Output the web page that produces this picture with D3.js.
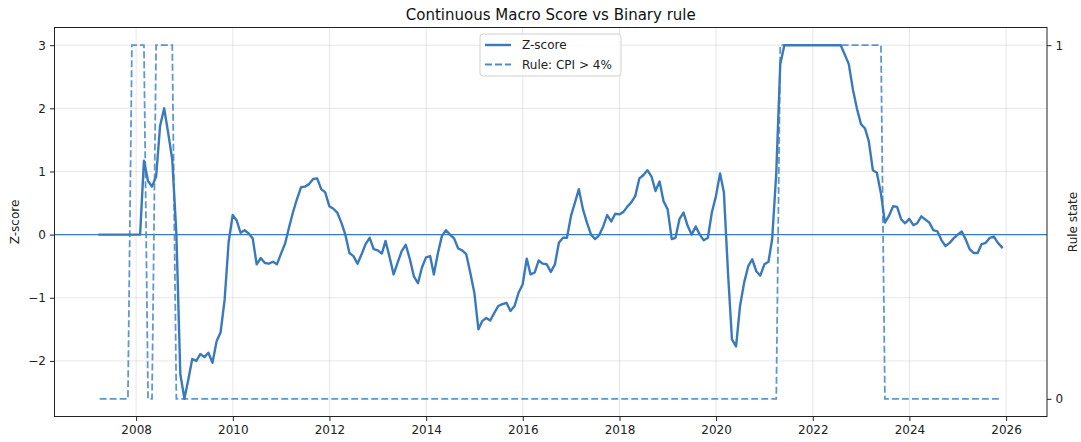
<!DOCTYPE html>
<html>
<head>
<meta charset="utf-8">
<script src="https://cdn.jsdelivr.net/npm/d3@7"></script>
<style>
  html, body { margin: 0; padding: 0; background: #fff; }
  svg { display: block; font-family: "DejaVu Sans", sans-serif; }
</style>
</head>
<body>
<svg id="chart" width="1081" height="442"></svg>
<script>
// ---------------- DATA ----------------
const title = "Continuous Macro Score vs Binary rule";
const startYear = 2007, startMonth = 3;   // first observation: end of March 2007 (monthly, month-end)
const zLabel = "Z-score";
const ruleLabel = "Rule: CPI > 4%";

// Z-score, monthly from 2007-03 to 2025-11
const zscore = [
  // 2007 Mar-Dec
  0, 0, 0, 0, 0, 0, 0, 0, 0, 0,
  // 2008
  0, 1.17, 0.85, 0.76, 0.92, 1.72, 2.0, 1.6, 1.19, 0.02, -2.21, -2.6,
  // 2009
  -2.28, -1.97, -2.0, -1.89, -1.94, -1.87, -2.03, -1.69, -1.55, -1.03, -0.12, 0.31,
  // 2010
  0.22, 0.03, 0.07, 0.02, -0.06, -0.47, -0.37, -0.45, -0.46, -0.43, -0.47, -0.3,
  // 2011
  -0.14, 0.1, 0.35, 0.56, 0.75, 0.76, 0.8, 0.88, 0.89, 0.72, 0.67, 0.45,
  // 2012
  0.41, 0.35, 0.19, 0.0, -0.29, -0.34, -0.46, -0.31, -0.15, -0.05, -0.23, -0.25,
  // 2013
  -0.3, -0.1, -0.36, -0.63, -0.44, -0.26, -0.16, -0.39, -0.66, -0.77, -0.52, -0.36,
  // 2014
  -0.34, -0.63, -0.29, -0.02, 0.07, 0.0, -0.06, -0.22, -0.25, -0.31, -0.6, -0.92,
  // 2015
  -1.5, -1.37, -1.32, -1.36, -1.24, -1.13, -1.1, -1.08, -1.21, -1.13, -0.92, -0.79,
  // 2016
  -0.38, -0.63, -0.6, -0.41, -0.46, -0.47, -0.59, -0.47, -0.13, -0.05, -0.05, 0.3,
  // 2017
  0.52, 0.72, 0.4, 0.19, 0.0, -0.07, -0.01, 0.13, 0.31, 0.21, 0.33, 0.32,
  // 2018
  0.36, 0.44, 0.51, 0.61, 0.89, 0.94, 1.02, 0.92, 0.69, 0.84, 0.53, 0.40,
  // 2019
  -0.07, -0.05, 0.25, 0.35, 0.14, 0.0, 0.13, 0.0, -0.09, -0.05, 0.35, 0.61,
  // 2020
  0.97, 0.67, -0.6, -1.66, -1.77, -1.13, -0.76, -0.5, -0.39, -0.58, -0.65, -0.47,
  // 2021
  -0.43, -0.07, 0.98, 2.7, 3, 3, 3, 3, 3, 3, 3, 3,
  // 2022
  3, 3, 3, 3, 3, 3, 3, 2.85, 2.7, 2.3, 2.0, 1.75,
  // 2023
  1.68, 1.48, 1.02, 0.98, 0.65, 0.19, 0.3, 0.45, 0.44, 0.24, 0.18, 0.25,
  // 2024
  0.15, 0.18, 0.29, 0.24, 0.19, 0.07, 0.05, -0.09, -0.18, -0.13, -0.06, 0.0,
  // 2025 Jan-Nov
  0.05, -0.07, -0.23, -0.29, -0.29, -0.15, -0.13, -0.05, -0.03, -0.13, -0.2
];

// Binary rule state (CPI > 4%), same months
const ruleState = [
  // 2007 Mar-Dec
  0, 0, 0, 0, 0, 0, 0, 0, 1, 1,
  // 2008
  1, 1, 0, 0, 1, 1, 1, 1, 1, 0, 0, 0,
  // 2009
  0,0,0,0,0,0,0,0,0,0,0,0,
  // 2010
  0,0,0,0,0,0,0,0,0,0,0,0,
  // 2011
  0,0,0,0,0,0,0,0,0,0,0,0,
  // 2012
  0,0,0,0,0,0,0,0,0,0,0,0,
  // 2013
  0,0,0,0,0,0,0,0,0,0,0,0,
  // 2014
  0,0,0,0,0,0,0,0,0,0,0,0,
  // 2015
  0,0,0,0,0,0,0,0,0,0,0,0,
  // 2016
  0,0,0,0,0,0,0,0,0,0,0,0,
  // 2017
  0,0,0,0,0,0,0,0,0,0,0,0,
  // 2018
  0,0,0,0,0,0,0,0,0,0,0,0,
  // 2019
  0,0,0,0,0,0,0,0,0,0,0,0,
  // 2020
  0,0,0,0,0,0,0,0,0,0,0,0,
  // 2021
  0, 0, 0, 1, 1, 1, 1, 1, 1, 1, 1, 1,
  // 2022
  1,1,1,1,1,1,1,1,1,1,1,1,
  // 2023
  1, 1, 1, 1, 1, 0, 0, 0, 0, 0, 0, 0,
  // 2024
  0,0,0,0,0,0,0,0,0,0,0,0,
  // 2025 Jan-Nov
  0,0,0,0,0,0,0,0,0,0,0
];

const xTickYears = [2008, 2010, 2012, 2014, 2016, 2018, 2020, 2022, 2024, 2026];
const zTicks = [-2, -1, 0, 1, 2, 3];
const ruleTicks = [0, 1];

// month-end dates
const dates = zscore.map((_, i) => new Date(Date.UTC(startYear, startMonth - 1 + i + 1, 0)));
const rows = dates.map((d, i) => ({ date: d, z: zscore[i], rule: ruleState[i] }));

// ---------------- LAYOUT ----------------
const svg = d3.select("#chart");
const m = { left: 54.5, right: 1047, top: 27.5, bottom: 416.5 };

const blue = "#3a7aba";
const ruleColor = "#4f8cc8";

// x domain with 5% padding like matplotlib
const [t0, t1] = d3.extent(dates).map(d => +d);
const padT = (t1 - t0) * 0.05;
const x = d3.scaleUtc().domain([new Date(t0 - padT), new Date(t1 + padT)]).range([m.left, m.right]);

const [zmin, zmax] = d3.extent(zscore);
const padZ = (zmax - zmin) * 0.05;
const y = d3.scaleLinear().domain([zmin - padZ, zmax + padZ]).range([m.bottom, m.top]);
const y2 = d3.scaleLinear().domain([-0.05, 1.05]).range([m.bottom, m.top]);

// ---------------- GRID ----------------
const grid = svg.append("g");
grid.selectAll("line.gx").data(xTickYears).join("line")
  .attr("x1", d => x(new Date(Date.UTC(d, 0, 1)))).attr("x2", d => x(new Date(Date.UTC(d, 0, 1))))
  .attr("y1", m.top).attr("y2", m.bottom)
  .attr("stroke", "#b0b0b0").attr("stroke-opacity", 0.3).attr("stroke-width", 1);
grid.selectAll("line.gy").data(zTicks).join("line")
  .attr("x1", m.left).attr("x2", m.right)
  .attr("y1", d => y(d)).attr("y2", d => y(d))
  .attr("stroke", "#b0b0b0").attr("stroke-opacity", 0.3).attr("stroke-width", 1);

// ---------------- ZERO LINE ----------------
svg.append("line")
  .attr("x1", m.left).attr("x2", m.right)
  .attr("y1", y(0)).attr("y2", y(0))
  .attr("stroke", blue).attr("stroke-width", 1.2);

// ---------------- SERIES ----------------
svg.append("path").datum(rows)
  .attr("fill", "none").attr("stroke", ruleColor).attr("stroke-width", 1.8)
  .attr("stroke-dasharray", "7,3").attr("opacity", 0.9)
  .attr("d", d3.line().x(d => x(d.date)).y(d => y2(d.rule)));

svg.append("path").datum(rows)
  .attr("fill", "none").attr("stroke", blue).attr("stroke-width", 2.4)
  .attr("stroke-linejoin", "round").attr("stroke-linecap", "square")
  .attr("d", d3.line().x(d => x(d.date)).y(d => y(d.z)));

// ---------------- AXES ----------------
const fmtMinus = d => (d < 0 ? "\u2212" + Math.abs(d) : String(d));
const fontSize = 12;

const xAxis = svg.append("g").attr("transform", `translate(0,${m.bottom})`)
  .call(d3.axisBottom(x).tickValues(xTickYears.map(yv => new Date(Date.UTC(yv, 0, 1))))
    .tickFormat(d3.utcFormat("%Y")).tickSize(4.5).tickPadding(4));
const yAxis = svg.append("g").attr("transform", `translate(${m.left},0)`)
  .call(d3.axisLeft(y).tickValues(zTicks).tickFormat(fmtMinus).tickSize(4.5).tickPadding(4));
const y2Axis = svg.append("g").attr("transform", `translate(${m.right},0)`)
  .call(d3.axisRight(y2).tickValues(ruleTicks).tickFormat(d3.format("d")).tickSize(4.5).tickPadding(4));

[xAxis, yAxis, y2Axis].forEach(g => {
  g.select(".domain").remove();
  g.selectAll(".tick line").attr("stroke", "#222").attr("stroke-width", 1);
  g.selectAll(".tick text").attr("fill", "#222").style("font-size", fontSize + "px")
    .style("font-family", "DejaVu Sans, sans-serif");
});

// frame
svg.append("rect").attr("x", m.left).attr("y", m.top)
  .attr("width", m.right - m.left).attr("height", m.bottom - m.top)
  .attr("fill", "none").attr("stroke", "#222").attr("stroke-width", 1);

// ---------------- LABELS ----------------
svg.append("text").attr("x", (m.left + m.right) / 2).attr("y", 20)
  .attr("text-anchor", "middle").style("font-size", "15px").attr("fill", "#111")
  .text(title);

svg.append("text").attr("transform", `translate(19,${(m.top + m.bottom) / 2}) rotate(-90)`)
  .attr("text-anchor", "middle").style("font-size", fontSize + "px").attr("fill", "#222")
  .text(zLabel);

svg.append("text").attr("transform", `translate(1077,${(m.top + m.bottom) / 2}) rotate(-90)`)
  .attr("text-anchor", "middle").style("font-size", fontSize + "px").attr("fill", "#222")
  .text("Rule state");

// ---------------- LEGEND ----------------
const lg = svg.append("g").attr("transform", "translate(480,34)");
lg.append("rect").attr("x", 0).attr("y", 0).attr("width", 141).attr("height", 42).attr("rx", 3)
  .attr("fill", "#fff").attr("fill-opacity", 0.8).attr("stroke", "#d0d0d0").attr("stroke-width", 1);
const items = [
  { label: zLabel, dash: null, color: blue, w: 2.4 },
  { label: ruleLabel, dash: "7,3", color: ruleColor, w: 1.8 }
];
items.forEach((it, i) => {
  const yy = 11 + i * 19.5;
  lg.append("line").attr("x1", 5).attr("x2", 31).attr("y1", yy).attr("y2", yy)
    .attr("stroke", it.color).attr("stroke-width", it.w)
    .attr("stroke-dasharray", it.dash);
  lg.append("text").attr("x", 42).attr("y", yy).attr("dy", "0.35em")
    .style("font-size", fontSize + "px").attr("fill", "#222").text(it.label);
});
</script>
</body>
</html>
